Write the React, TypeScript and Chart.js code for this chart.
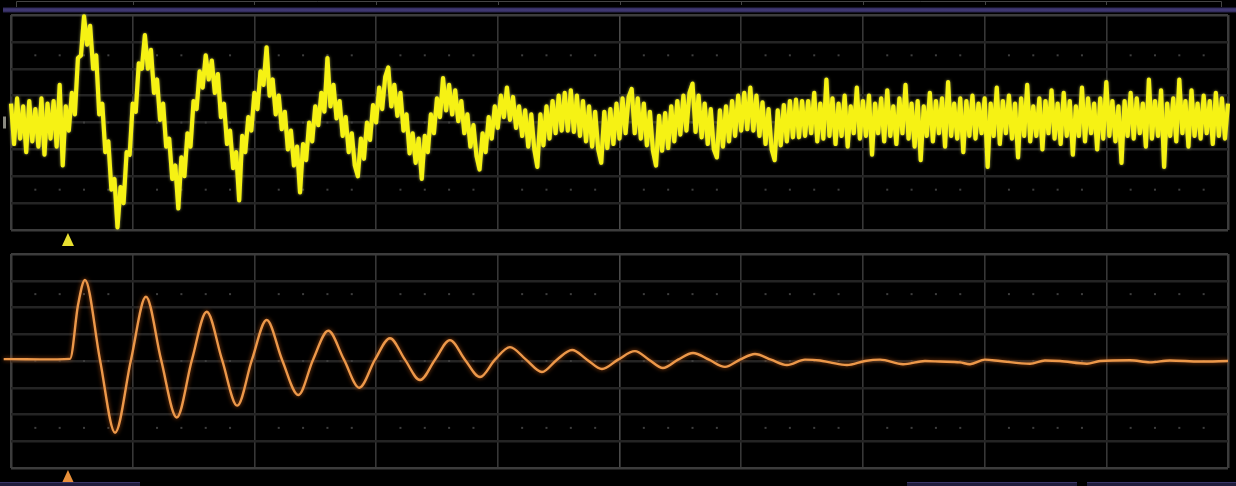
import React, { useEffect, useRef } from "react";
import { Chart, registerables } from "chart.js";

Chart.register(...registerables);

// ---- Data (time axis in horizontal divisions, amplitude in vertical divisions) ----
const X_MIN = 0;
const X_MAX = 10;
const X_CENTER = 5;
const Y_MIN = -4;
const Y_MAX = 4;
const TRIGGER_T = 0.468;
const MINOR_DOT_ROWS = [-2.5, 0, 2.5];

// Channel 1 (yellow, noisy): sampled every YELLOW_DT divisions
const YELLOW_DT = 0.025;
const YELLOW_V = [
  0.7, -0.8, 0.9, -0.6, 0.6, -1.1, 0.8, -0.7, 0.5, -0.9, 0.9, -1.2, 0.7, -0.6, 0.8, -0.9, 1.4, -1.6, 0.6,
  -0.3, 1.1, 0.3, 2.4, 2.5, 3.95, 2.9, 3.6, 2.0, 2.5,
  0.3, 0.7, -1.1, -0.7, -2.5, -2.1, -3.9, -2.4, -3.0, -1.1,
  -1.2, 0.7, 0.4, 2.2, 2.0, 3.25, 2.0, 2.7, 1.1, 1.6,
  0.1, 0.7, -0.9, -0.6, -2.1, -1.6, -3.2, -1.3, -2.0, -0.4,
  -0.9, 0.8, 0.5, 1.9, 1.3, 2.5, 1.6, 2.3, 1.1, 1.8,
  0.2, 0.7, -0.8, -0.3, -1.7, -1.1, -2.9, -0.5, -1.1, 0.2,
  -0.3, 1.1, 0.5, 1.9, 1.4, 2.8, 1.0, 1.6, 0.3, 1.0,
  -0.25, 0.4, -1.0, -0.3, -1.6, -0.9, -2.6, -0.8, -1.4, 0.0,
  -0.7, 0.6, -0.1, 1.1, 0.4, 2.4, 0.6, 1.4, 0.15, 0.8,
  -0.5, 0.2, -1.1, -0.4, -1.6, -2.0, -0.6, -1.35, 0.0, -0.65,
  0.65, 0.0, 1.3, 0.5, 1.7, 2.05, 0.6, 1.4, 0.25, 1.1,
  -0.3, 0.3, -1.15, -0.4, -1.5, -0.6, -2.1, -0.5, -1.1, 0.3,
  -0.4, 0.9, 0.2, 1.65, 0.45, 1.4, 0.3, 1.2, 0.05, 0.8,
  -0.4, 0.3, -0.9, -0.1, -1.25, -1.75, -0.4, -1.1, 0.2, -0.6,
  0.6, -0.2, 1.0, 0.2, 1.3, 0.1, 0.95, -0.2, 0.6, -0.5,
  0.45, -0.9, 0.3, -1.0, -1.65, 0.3, -0.85, 0.6, -0.6, 0.8,
  -0.4, 1.0, -0.3, 1.1, -0.3, 1.2, -0.35, 1.0, -0.5, 0.8,
  -0.7, 0.6, -0.9, 0.4, -1.0, -1.5, 0.4, -0.95, 0.5, -0.8,
  0.7, -0.6, 0.9, -0.4, 0.95, 1.25, -0.4, 0.9, -0.6, 0.7,
  -0.85, 0.4, -1.05, -1.6, 0.25, -1.05, 0.35, -0.95, 0.6, -0.7,
  0.8, -0.45, 1.0, -0.3, 1.1, 1.45, -0.35, 1.0, -0.55, 0.7,
  -0.8, 0.5, -1.0, -1.3, 0.45, -0.9, 0.6, -0.7, 0.8, -0.5,
  1.0, -0.3, 1.1, -0.25, 1.3, -0.3, 1.0, -0.5, 0.75, -0.8,
  0.5, -1.0, -1.4, 0.45, -0.85, 0.65, -0.7, 0.8, -0.55, 0.85,
  -0.55, 0.8,
  -0.5, 0.8, -0.4, 1.1, -0.7, 0.7, -0.6, 1.6, -0.5, 0.9,
  -0.8, 0.7, -0.5, 1.0, -0.9, 0.6, -0.4, 1.3, -0.6, 0.8,
  -0.5, 1.0, -1.2, 0.7, -0.4, 0.9, -0.7, 1.2, -0.5, 0.6,
  -0.8, 0.9, -0.4, 1.4, -0.6, 0.7, -0.9, 0.8, -1.4, 0.6,
  -0.5, 1.1, -0.7, 0.8, -0.4, 0.9, -0.9, 1.5, -0.5, 0.7,
  -0.6, 0.9, -1.1, 0.8, -0.5, 1.0, -0.6, 0.7, -0.4, 0.9,
  -1.65, 0.7, -0.5, 1.3, -0.8, 0.8, -0.4, 1.0, -0.6, 0.7,
  -1.3, 0.9, -0.5, 1.4, -0.7, 0.6, -0.5, 0.9, -1.0, 0.8,
  -0.4, 1.2, -0.6, 0.7, -0.8, 1.1, -0.5, 0.8, -1.2, 0.6,
  -0.5, 1.3, -0.7, 0.9, -0.4, 0.7, -1.0, 0.9, -0.6, 1.5,
  -0.5, 0.8, -0.7, 0.6, -1.5, 0.8, -0.5, 1.1, -0.6, 0.9,
  -0.4, 0.7, -0.9, 1.6, -0.6, 0.8, -0.5, 1.2, -1.65, 0.7,
  -0.5, 0.9, -0.7, 1.6, -0.4, 0.8, -0.9, 1.2, -0.5, 0.7,
  -0.6, 1.0, -0.4, 0.8, -0.8, 1.1, -0.5, 0.9, -0.6, 0.7,
];

// Channel 2 (orange, clean damped ringing): key points (time, amplitude)
const ORANGE_T = [
  -0.06, 0, 0.238, 0.485, 0.551, 0.608, 0.731, 0.855, 0.986, 1.109, 1.233, 1.362, 1.487, 1.608,
  1.734, 1.859, 1.98, 2.101, 2.227, 2.361, 2.482, 2.607, 2.736, 2.862, 2.991, 3.114, 3.237,
  3.361, 3.484, 3.607, 3.73, 3.854, 3.977, 4.1, 4.232, 4.363, 4.486, 4.61, 4.733, 4.856,
  4.988, 5.127, 5.242, 5.357, 5.481, 5.604, 5.735, 5.867, 5.99, 6.113, 6.245, 6.376, 6.524,
  6.648, 6.73, 6.869, 7.017, 7.141, 7.33, 7.51, 7.634, 7.798, 7.88, 8.003, 8.126, 8.373,
  8.496, 8.62, 8.841, 8.948, 9.195, 9.359, 9.523, 9.77, 10.0,
];
const ORANGE_V = [
  0.07, 0.07, 0.06, 0.08, 2.1, 3.03, 0.05, -2.68, 0.05, 2.4, 0.05, -2.11, 0.05, 1.84,
  0.05, -1.67, 0.05, 1.53, 0.05, -1.27, 0.05, 1.13, 0.05, -1.0, 0.05, 0.85, 0.05,
  -0.71, 0.05, 0.78, 0.05, -0.6, 0.05, 0.52, 0.05, -0.41, 0.05, 0.41, 0.05, -0.3,
  0.05, 0.37, 0.05, -0.26, 0.05, 0.3, 0.05, -0.22, 0.05, 0.26, 0.05, -0.15, 0.05,
  0.02, -0.05, -0.15, 0.0, 0.05, -0.12, 0.0, -0.02, -0.05, -0.12, 0.05, 0.0, -0.1,
  0.02, 0.0, -0.1, 0.0, 0.03, -0.05, 0.02, -0.02, 0.0,
];

// ---- Styling ----
const BG = "#000000";
const V_GRID = "#373737";
const V_CENTER = "#4a4a4a";
const H_GRID = "#242424";
const FRAME = "#3c3c3c";
const DOT = "#3e3e3e";
const YELLOW = "#f6f214";
const YELLOW_GLOW = "rgba(160,160,80,0.9)";
const ORANGE = "#ec984a";
const ORANGE_GLOW = "rgba(170,80,20,0.9)";

const W = 1236;
const TOP_H = 250;
const BOT_H = 236;

function triangle(ctx: CanvasRenderingContext2D, x: number, yTop: number, yBase: number, half: number, color: string) {
  ctx.save();
  ctx.fillStyle = color;
  ctx.beginPath();
  ctx.moveTo(x, yTop);
  ctx.lineTo(x + half, yBase);
  ctx.lineTo(x - half, yBase);
  ctx.closePath();
  ctx.fill();
  ctx.restore();
}

function makeDecor(panel: "top" | "bottom") {
  return {
    id: "scopeDecor",
    beforeDraw(chart: any) {
      const ctx = chart.ctx;
      ctx.save();
      ctx.fillStyle = BG;
      ctx.fillRect(0, 0, chart.width, chart.height);
      ctx.restore();
    },
    beforeDatasetsDraw(chart: any) {
      const ctx = chart.ctx;
      const xs = chart.scales.x;
      const ys = chart.scales.y;
      ctx.save();
      ctx.fillStyle = DOT;
      for (let k = 1; k < 50; k++) {
        if (k % 5 === 0) continue;
        const px = xs.getPixelForValue(k * 0.2);
        for (const r of MINOR_DOT_ROWS) {
          const py = ys.getPixelForValue(r);
          ctx.fillRect(px - 1, py - 1, 2, 2);
        }
      }
      ctx.restore();
    },
    afterDraw(chart: any) {
      const ctx = chart.ctx;
      const xs = chart.scales.x;
      const area = chart.chartArea;
      const tx = xs.getPixelForValue(TRIGGER_T);
      ctx.save();
      if (panel === "top") {
        ctx.strokeStyle = "#444";
        ctx.lineWidth = 1;
        ctx.beginPath();
        ctx.moveTo(16.5, 7);
        ctx.lineTo(16.5, 1.5);
        ctx.lineTo(1221.5, 1.5);
        ctx.lineTo(1221.5, 7);
        ctx.stroke();
        for (let k = 1; k < 10; k++) {
          const px = Math.round(xs.getPixelForValue(k)) + 0.5;
          ctx.beginPath();
          ctx.moveTo(px, 1.5);
          ctx.lineTo(px, 5);
          ctx.stroke();
        }
        const g = ctx.createLinearGradient(0, 7, 0, 13);
        g.addColorStop(0, "#2a2550");
        g.addColorStop(0.5, "#433b78");
        g.addColorStop(1, "#241f44");
        ctx.fillStyle = g;
        ctx.fillRect(3, 7.5, W - 3, 5);
        ctx.fillStyle = "#8a8a80";
        ctx.fillRect(3, chart.scales.y.getPixelForValue(0) - 6, 3, 12);
        triangle(ctx, tx, area.bottom + 3, area.bottom + 16, 6, "#e8e030");
      } else {
        triangle(ctx, tx, area.bottom + 2, area.bottom + 15, 6, "#e8903a");
        ctx.fillStyle = "#1f1d3c";
        const yb = BOT_H - 4;
        ctx.fillRect(0, yb, 140, 4);
        ctx.fillRect(907, yb, 170, 4);
        ctx.fillRect(1087, yb, W - 1087, 4);
        ctx.fillStyle = "#3a3668";
        ctx.fillRect(0, yb, 140, 1);
        ctx.fillRect(907, yb, 170, 1);
        ctx.fillRect(1087, yb, W - 1087, 1);
      }
      ctx.restore();
    },
  };
}

const glowPlugin = {
  id: "glow",
  beforeDatasetDraw(chart: any, args: any) {
    const ds = chart.data.datasets[args.index];
    const ctx = chart.ctx;
    ctx.save();
    ctx.shadowColor = ds.glowColor || "transparent";
    ctx.shadowBlur = ds.glowBlur || 0;
  },
  afterDatasetDraw(chart: any) {
    chart.ctx.restore();
  },
};

function isEdge(c: any, a: number, b: number) {
  return c.tick && (c.tick.value === a || c.tick.value === b);
}

function scales() {
  return {
    x: {
      type: "linear" as const,
      min: X_MIN,
      max: X_MAX,
      ticks: { display: false, stepSize: 1 },
      border: { display: false },
      grid: {
        drawTicks: false,
        color: (c: any) => (isEdge(c, X_MIN, X_MAX) ? FRAME : c.tick && c.tick.value === X_CENTER ? V_CENTER : V_GRID),
        lineWidth: (c: any) => (isEdge(c, X_MIN, X_MAX) ? 2.5 : 1.6),
      },
    },
    y: {
      type: "linear" as const,
      min: Y_MIN,
      max: Y_MAX,
      ticks: { display: false, stepSize: 1 },
      border: { display: false },
      grid: {
        drawTicks: false,
        color: (c: any) => (isEdge(c, Y_MIN, Y_MAX) ? FRAME : H_GRID),
        lineWidth: 2.5,
      },
    },
  };
}

function baseOptions(padding: any) {
  return {
    responsive: false,
    animation: false as const,
    events: [] as any[],
    layout: { padding },
    plugins: { legend: { display: false }, tooltip: { enabled: false } },
    scales: scales(),
  };
}

export default function App() {
  const topRef = useRef<HTMLCanvasElement>(null);
  const botRef = useRef<HTMLCanvasElement>(null);

  useEffect(() => {
    const yellowData = YELLOW_V.map((v, i) => ({ x: i * YELLOW_DT, y: v }));
    const orangeData = ORANGE_T.map((t, i) => ({ x: t, y: ORANGE_V[i] }));

    const top = new Chart(topRef.current as HTMLCanvasElement, {
      type: "line",
      data: {
        datasets: [
          {
            label: "CH1",
            data: yellowData,
            borderColor: YELLOW,
            borderWidth: 4.2,
            borderJoinStyle: "round",
            pointRadius: 0,
            tension: 0,
            clip: { left: 4, right: 2, top: 6, bottom: 2 },
            glowColor: YELLOW_GLOW,
            glowBlur: 3,
          } as any,
        ],
      },
      options: baseOptions({ left: 11, right: 8, top: 15, bottom: TOP_H - 230 }) as any,
      plugins: [makeDecor("top"), glowPlugin],
    });

    const bot = new Chart(botRef.current as HTMLCanvasElement, {
      type: "line",
      data: {
        datasets: [
          {
            label: "CH2",
            data: orangeData,
            borderColor: ORANGE,
            borderWidth: 2.4,
            pointRadius: 0,
            cubicInterpolationMode: "monotone",
            clip: { left: 10, right: 2, top: 2, bottom: 2 },
            glowColor: ORANGE_GLOW,
            glowBlur: 4,
          } as any,
        ],
      },
      options: baseOptions({ left: 11, right: 8, top: 254 - TOP_H, bottom: BOT_H - (468 - TOP_H) }) as any,
      plugins: [makeDecor("bottom"), glowPlugin],
    });

    return () => {
      top.destroy();
      bot.destroy();
    };
  }, []);

  return (
    <div style={{ position: "fixed", left: 0, top: 0, width: W, height: TOP_H + BOT_H, background: BG }}>
      <canvas ref={topRef} width={W} height={TOP_H} style={{ display: "block", width: W, height: TOP_H }} />
      <canvas ref={botRef} width={W} height={BOT_H} style={{ display: "block", width: W, height: BOT_H }} />
    </div>
  );
}
